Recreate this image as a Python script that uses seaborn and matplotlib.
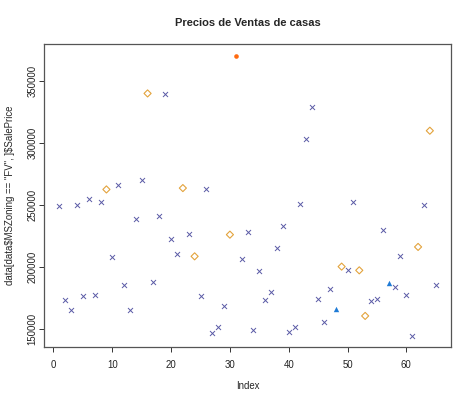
import numpy as np
import pandas as pd
import matplotlib; matplotlib.use("Agg")
import matplotlib.pyplot as plt
import seaborn as sns

sns.set_style("white")
plt.rcParams["font.family"] = ["Liberation Sans", "DejaVu Sans"]

# precios de venta (zona FV), en orden de índice 1..65
sale_price = [
    249000, 172800, 164800, 250000, 176000, 254800, 177200, 252200, 262300, 207500,
    266100, 185200, 165100, 238700, 269900, 339800, 187900, 240900, 339500, 222000,
    210200, 263400, 226600, 208300, 176000, 262900, 146200, 151300, 168500, 225800,
    370400, 205900, 228000, 148900, 196200, 172800, 179600, 215100, 232500, 147300,
    151000, 250500, 303200, 328500, 173600, 155100, 182000, 165600, 200000, 197000,
    251900, 197000, 160200, 172000, 174000, 229600, 186800, 183900, 208600, 177400,
    144400, 215900, 250000, 309700, 184900,
]
grupo_b = [9, 16, 22, 24, 30, 49, 52, 53, 62, 64]
grupo_c = [31]
grupo_d = [48, 57]

index = list(range(1, len(sale_price) + 1))
grupo = ["B" if i in grupo_b else "C" if i in grupo_c else "D" if i in grupo_d else "A"
         for i in index]
df = pd.DataFrame({"Index": index, "SalePrice": sale_price, "grupo": grupo})

estilos = {
    "A": dict(marker="x", color="#5A5AA6", s=13, linewidth=0.7),
    "B": dict(marker="D", facecolor="none", edgecolor="#E3A33C", s=13, linewidth=0.8),
    "C": dict(marker="o", color="#FF6A10", s=11, linewidth=0),
    "D": dict(marker="^", color="#1F7BD6", s=15, linewidth=0),
}

fig = plt.figure(figsize=(4.74, 4.03), dpi=100)
ax = fig.add_axes([0.0935, 0.1397, 0.8575, 0.7503])
for g, kw in estilos.items():
    sns.scatterplot(data=df[df["grupo"] == g], x="Index", y="SalePrice", ax=ax,
                    legend=False, **kw)

ax.margins(0.04)
ax.set_xticks([0, 10, 20, 30, 40, 50, 60])
ax.set_yticks([150000, 200000, 250000, 300000, 350000])
ax.tick_params(axis="both", direction="out", length=3.6, width=0.7,
               labelsize=6.9, colors="#333333", labelcolor="#222222",
               bottom=True, left=True)
ax.tick_params(axis="x", pad=6)
ax.tick_params(axis="y", pad=1.5, labelrotation=90)
for lab in ax.get_yticklabels():
    lab.set_va("center")
for s in ax.spines.values():
    s.set_color("#555555")
    s.set_linewidth(0.9)
ax.set_xlabel("Index", fontsize=6.9, labelpad=8)
ax.set_ylabel(r'data[data\$MSZoning == "FV", ]\$SalePrice', fontsize=6.9, labelpad=9)
ax.set_title("Precios de Ventas de casas", fontsize=8, fontweight="bold", pad=13)

fig.savefig("out.png", dpi=100)
